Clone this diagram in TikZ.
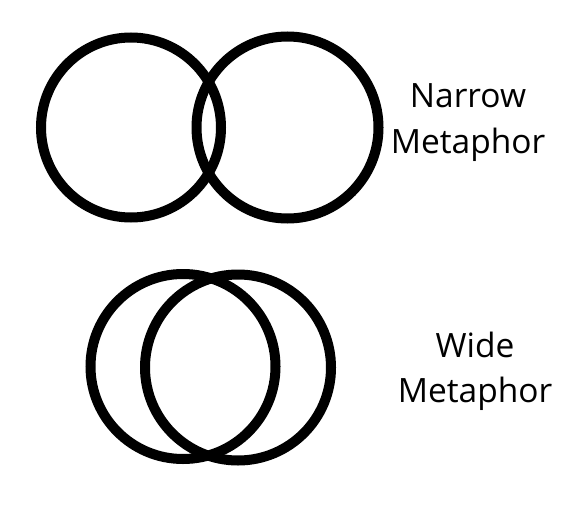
\documentclass[tikz,border=0pt]{standalone}
\usepackage{fontspec}
\setmainfont{Open Sans}
\begin{document}
\begin{tikzpicture}[x=1pt,y=-1pt,
  ring/.style={draw=black,line width=10pt},
  lbl/.style={font=\fontsize{33.5}{45}\selectfont,anchor=base,inner sep=0pt,text=black}]
\useasboundingbox (0,0) rectangle (564,516);
\fill[white] (0,0) rectangle (564,516);
% narrow metaphor
\coordinate (nl) at (131,127.5);
\coordinate (nr) at (287.5,127.5);
\draw[ring] (nl) circle[radius=90];
\draw[ring] (nr) circle[radius=91];
\node[lbl] (n1) at (468,107) {Narrow};
\node[lbl] (n2) at (468,153) {Metaphor};
% wide metaphor
\coordinate (wl) at (183,366.5);
\coordinate (wr) at (238,367.5);
\draw[ring] (wl) circle[radius=92.5];
\draw[ring] (wr) circle[radius=93];
\node[lbl] (w1) at (475,357) {Wide};
\node[lbl] (w2) at (475,402) {Metaphor};
\end{tikzpicture}
\end{document}
